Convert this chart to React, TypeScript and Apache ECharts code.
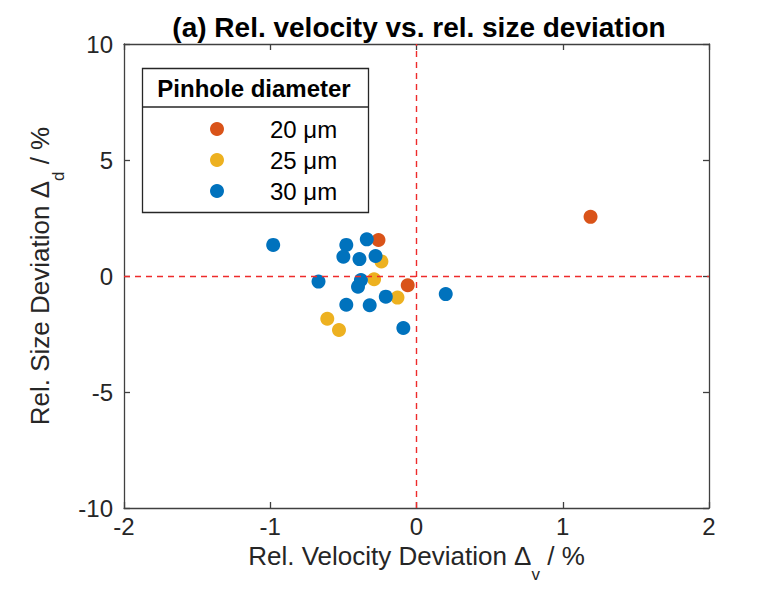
import React, { useEffect, useRef } from "react";
import * as echarts from "echarts";

const seriesNames = ["20 μm", "25 μm", "30 μm"];
const colors = ["#D95319", "#EDB120", "#0072BD"];

const d20: number[][] = [
  [-0.26, 1.55],
  [-0.06, -0.4],
  [1.19, 2.55],
];
const d25: number[][] = [
  [-0.24, 0.63],
  [-0.29, -0.14],
  [-0.13, -0.93],
  [-0.61, -1.84],
  [-0.53, -2.33],
];
const d30: number[][] = [
  [-0.98, 1.34],
  [-0.48, 1.34],
  [-0.34, 1.58],
  [-0.5, 0.83],
  [-0.39, 0.73],
  [-0.28, 0.86],
  [-0.67, -0.24],
  [-0.38, -0.17],
  [-0.4, -0.46],
  [0.2, -0.78],
  [-0.21, -0.89],
  [-0.48, -1.24],
  [-0.32, -1.26],
  [-0.09, -2.24],
];
const xTicks = [-2, -1, 0, 1, 2];
const yTicks = [-10, -5, 0, 5, 10];

const FONT = "'Liberation Sans', Arial, sans-serif";
const AX = "#262626";

export default function App() {
  const ref = useRef<HTMLDivElement>(null);
  useEffect(() => {
    document.body.style.margin = "0";
    if (!ref.current) return;
    const chart = echarts.init(ref.current, undefined, { renderer: "svg" });
    const grid = { left: 124, right: 59, top: 44, bottom: 97 };
    const axisLine = { show: true, onZero: false, lineStyle: { color: "#404040", width: 1.3 } };
    const tick = { show: true, inside: true, length: 6, lineStyle: { color: "#404040", width: 1.3 } };
    const nameRich = {
      a: { fontFamily: FONT, fontSize: 26, color: AX },
      s: { fontFamily: FONT, fontSize: 17, color: AX, padding: [38, 0, 0, 0] },
    };
    const mk = (name: string, data: number[][], color: string, withLines: boolean) => ({
      type: "scatter",
      name,
      data,
      symbol: "circle",
      symbolSize: 14,
      itemStyle: { color, opacity: 1 },
      z: 3,
      ...(withLines
        ? {
            markLine: {
              silent: true,
              symbol: "none",
              label: { show: false },
              lineStyle: { color: "#EE2B2B", type: [6, 5], width: 1.4 },
              data: [{ xAxis: 0 }, { yAxis: 0 }],
            },
          }
        : {}),
    });
    chart.setOption({
      animation: false,
      backgroundColor: "#ffffff",
      textStyle: { fontFamily: FONT },
      title: {
        text: "(a) Rel. velocity vs. rel. size deviation",
        left: 414,
        textAlign: "center",
        top: 8,
        textStyle: { fontFamily: FONT, fontSize: 28, fontWeight: "bold", color: "#000" },
      },
      grid,
      xAxis: [
        {
          type: "value",
          min: xTicks[0],
          max: xTicks[xTicks.length - 1],
          interval: 1,
          position: "bottom",
          axisLine,
          axisTick: tick,
          splitLine: { show: false },
          axisLabel: { fontFamily: FONT, fontSize: 24, color: AX, margin: 6, formatter: (v: number) => String(v) },
          name: "{a|Rel. Velocity Deviation Δ}{s|v}{a| / %}",
          nameLocation: "middle",
          nameGap: 7,
          nameTextStyle: { rich: nameRich },
        },
        {
          type: "value",
          min: xTicks[0],
          max: xTicks[xTicks.length - 1],
          interval: 1,
          position: "top",
          axisLine,
          axisTick: tick,
          splitLine: { show: false },
          axisLabel: { show: false },
        },
      ],
      yAxis: [
        {
          type: "value",
          min: yTicks[0],
          max: yTicks[yTicks.length - 1],
          interval: 5,
          position: "left",
          axisLine,
          axisTick: tick,
          splitLine: { show: false },
          axisLabel: { fontFamily: FONT, fontSize: 24, color: AX, margin: 11, formatter: (v: number) => String(v) },
          name: "{a|Rel. Size Deviation Δ}{s|d}{a| / %}",
          nameLocation: "middle",
          nameGap: 42,
          nameTextStyle: { rich: nameRich },
        },
        {
          type: "value",
          min: yTicks[0],
          max: yTicks[yTicks.length - 1],
          interval: 5,
          position: "right",
          axisLine,
          axisTick: tick,
          splitLine: { show: false },
          axisLabel: { show: false },
        },
      ],
      legend: {
        orient: "vertical",
        left: 205,
        top: 112,
        itemWidth: 14,
        itemHeight: 14,
        itemGap: 7,
        icon: "circle",
        data: seriesNames,
        textStyle: { fontFamily: FONT, fontSize: 24, color: "#000", padding: [0, 0, 0, 41] },
      },
      graphic: [
        {
          type: "rect",
          shape: { x: 142.5, y: 68.5, width: 226, height: 144 },
          style: { fill: "#fff", stroke: "#262626", lineWidth: 1.3 },
          z: 0,
        },
        {
          type: "line",
          shape: { x1: 142.5, y1: 107, x2: 368.5, y2: 107 },
          style: { stroke: "#262626", lineWidth: 1.3 },
          z: 1,
        },
        {
          type: "text",
          x: 254,
          y: 88,
          style: {
            text: "Pinhole diameter",
            fontFamily: FONT,
            fontSize: 24,
            fontWeight: "bold",
            fill: "#000",
            align: "center",
            verticalAlign: "middle",
          },
          z: 1,
        },
      ],
      series: [
        mk(seriesNames[0], d20, colors[0], true),
        mk(seriesNames[1], d25, colors[1], false),
        mk(seriesNames[2], d30, colors[2], false),
      ],
    });
    return () => chart.dispose();
  }, []);
  return <div ref={ref} style={{ width: 768, height: 605 }} />;
}
